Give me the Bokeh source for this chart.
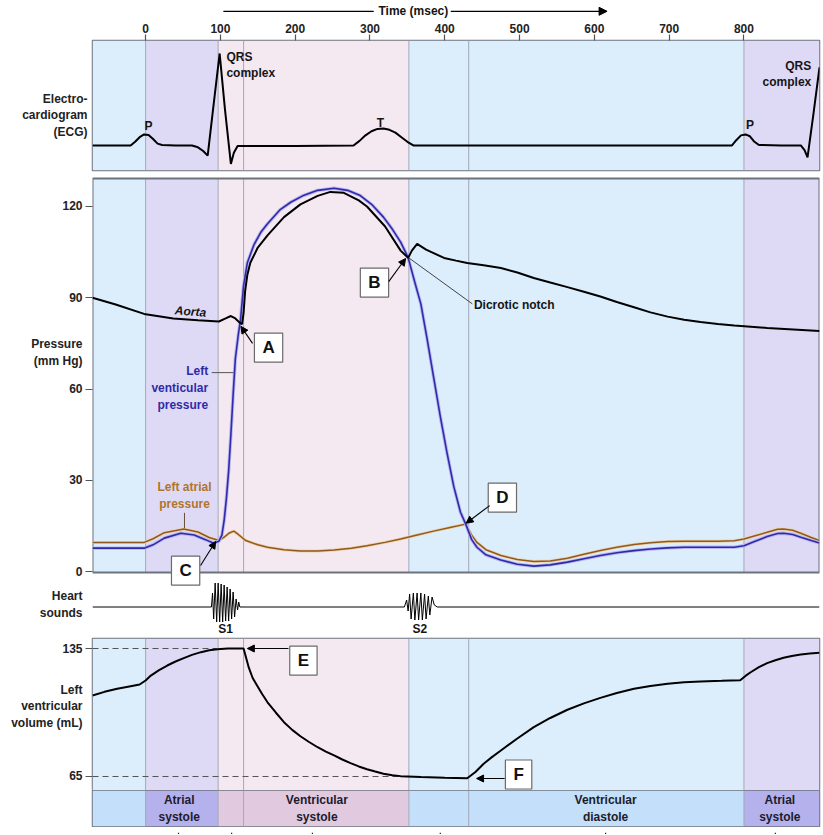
from bokeh.plotting import figure
from bokeh.models import Range1d, Label, Arrow, NormalHead, FixedTicker, LinearAxis
from bokeh.layouts import column
from bokeh.embed import file_html
from bokeh.resources import INLINE

# ---------------------------------------------------------------- data
X_START, X_END = -71, 901
TIME_TICKS = [0, 100, 200, 300, 400, 500, 600, 700, 800]
PRESSURE_TICKS = [0, 30, 60, 90, 120]
VOLUME_TICKS = [65, 135]

PHASE_STARTS = [-71, 0, 97, 352, 800]
PHASE_ENDS = [0, 97, 352, 800, 901]
PHASE_KIND = ["diastole", "atrial", "ventricular", "diastole", "atrial"]
BOUNDARIES = [0, 97, 131, 352, 432, 800]
PHASE_LABELS = ["Atrial\nsystole", "Ventricular\nsystole", "Ventricular\ndiastole", "Atrial\nsystole"]
PHASE_LABEL_X = [45, 229, 615, 848]
LEADER_X = [44, 115, 223, 394, 615, 842]

ecg_t = [-71, -20, -14, -8, -2, 4, 10, 16, 22, 40, 62, 70, 77, 83, 91, 99, 106, 114, 118, 123,
         200, 278, 286, 294, 302, 310, 318, 326, 334, 342, 350, 358, 500, 784, 790, 796, 802, 808,
         814, 820, 850, 876, 881, 885, 893, 901]
ecg_v = [0, 0, 0.04, 0.09, 0.12, 0.115, 0.07, 0.02, 0.005, 0.0, 0.0, -0.02, -0.06, -0.11, 0.45,
         1.0, 0.4, -0.2, -0.08, -0.005, -0.005, 0.0, 0.05, 0.11, 0.155, 0.18, 0.185, 0.17, 0.14,
         0.09, 0.04, 0.0, 0.0, 0.0, 0.06, 0.11, 0.12, 0.1, 0.04, 0.005, 0.0, 0.0, -0.05, -0.13,
         0.35, 0.85]

aorta_t = [-71, -40, -2, 37, 70, 98, 107, 114, 120, 125, 129, 131, 133, 136, 140, 150, 163, 185,
           207, 230, 247, 265, 285, 296, 320, 341, 351, 356, 363, 375, 399, 415, 430, 452, 475,
           497, 519, 541, 564, 586, 608, 630, 653, 675, 698, 720, 742, 765, 787, 831, 901]
aorta_v = [90.0, 87.8, 84.7, 83.2, 82.6, 82.2, 83.2, 84.0, 83.2, 82.0, 81.3, 85.0, 92.0, 97.5,
           101.5, 106.5, 110.5, 116.5, 120.7, 123.5, 124.8, 124.5, 122.0, 120.0, 113.5, 105.5,
           103.1, 105.5, 107.7, 105.8, 103.1, 102.2, 101.4, 100.7, 99.8, 98.3, 96.5, 95.0, 93.5,
           92.0, 90.4, 88.6, 86.9, 85.2, 83.8, 82.8, 82.0, 81.4, 80.9, 80.1, 79.1]

lv_t = [-71, -2, 10, 25, 47, 65, 80, 91, 98, 102, 105, 108, 111, 114, 117, 120, 124, 127, 131,
        136, 145, 154, 163, 180, 194, 210, 230, 252, 270, 287, 303, 318, 330, 341, 351, 360, 368,
        376, 385, 394, 403, 412, 421, 428, 436, 443, 455, 475, 497, 519, 541, 564, 586, 608, 630,
        653, 675, 698, 720, 742, 765, 787, 800, 815, 831, 845, 853, 865, 876, 890, 901]
lv_v = [7.7, 7.7, 8.8, 11.0, 12.6, 12.0, 10.5, 9.3, 10.0, 12.0, 16.8, 24.0, 33.0, 45.0, 58.0,
        70.0, 78.0, 83.0, 94.0, 101.5, 107.5, 111.5, 114.3, 119.0, 121.4, 123.5, 125.3, 126.0,
        125.3, 123.6, 120.5, 116.5, 112.5, 108.3, 103.2, 95.0, 88.0, 77.0, 64.0, 51.0, 39.0,
        28.0, 19.5, 15.6, 10.5, 8.0, 5.5, 3.8, 2.4, 1.8, 2.2, 3.1, 4.2, 5.3, 6.2, 6.9, 7.4, 7.8,
        8.0, 8.0, 8.0, 8.0, 8.5, 10.0, 11.5, 12.5, 12.6, 12.2, 11.3, 10.2, 9.4]

la_t = [-71, -2, 10, 25, 51, 70, 85, 98, 105, 112, 118, 124, 134, 150, 163, 185, 207, 230, 252,
        275, 296, 320, 341, 363, 385, 407, 428, 436, 443, 455, 475, 497, 519, 541, 564, 586, 608,
        630, 653, 675, 698, 720, 742, 765, 787, 800, 815, 831, 845, 853, 865, 876, 890, 901]
la_v = [9.6, 9.6, 10.8, 12.8, 14.0, 13.0, 11.2, 10.2, 11.3, 12.7, 13.3, 12.2, 10.2, 8.8, 8.0,
        7.2, 6.8, 6.8, 7.1, 7.7, 8.5, 9.6, 10.7, 12.0, 13.3, 14.5, 15.6, 12.0, 9.6, 7.2, 5.3,
        4.0, 3.3, 3.5, 4.4, 5.7, 6.9, 8.0, 8.9, 9.5, 9.9, 10.0, 10.0, 10.0, 10.1, 10.7, 11.8,
        12.9, 13.9, 14.0, 13.6, 12.6, 11.2, 10.2]

hs_t = [-71, 88, 89.5, 91, 93, 95, 97, 99, 101, 103, 105, 107, 109, 111, 113, 115, 117, 119,
        121, 123, 124.5, 126, 346, 349, 351, 353, 355, 358, 360, 363, 365, 368, 370, 373, 375,
        378, 380, 383, 386, 390, 901]
hs_v = [0, 0, 14, -12, 24, -15, 24, -15, 23, -15, 22, -14, 20, -14, 18, -12, 15, -10, 8, -3, 5,
        0, 0, 7, -4, 13, -12, 14, -13, 14, -13, 14, -13, 13, -12, 11, -8, 10, 2, 0, 0]

vol_t = [-71, -55, -38, -20, -8, 0, 7, 18, 29, 40, 51, 62, 74, 85, 96, 110, 131, 134, 138, 143,
         149, 156, 163, 174, 185, 196, 207, 218, 230, 241, 252, 263, 274, 285, 296, 307, 318,
         330, 341, 368, 400, 430, 441, 452, 463, 475, 497, 519, 541, 564, 586, 608, 630, 653,
         675, 698, 720, 742, 770, 795, 802, 809, 820, 831, 842, 853, 864, 876, 888, 901]
vol_v = [109.3, 111.3, 113.0, 114.4, 115.3, 117.5, 120.2, 123.2, 125.7, 127.9, 129.7, 131.5,
         133.0, 134.0, 134.6, 135.0, 135.0, 130.5, 124.5, 119.0, 114.8, 110.0, 105.6, 100.0,
         94.7, 90.5, 87.0, 84.0, 81.0, 78.6, 76.5, 74.3, 72.3, 70.5, 69.0, 67.7, 66.5, 65.7,
         65.2, 64.7, 64.3, 64.0, 67.5, 72.0, 75.6, 79.2, 85.8, 92.0, 97.0, 101.5, 105.0, 108.0,
         110.7, 113.0, 114.5, 115.7, 116.5, 117.0, 117.3, 117.6, 120.0, 122.0, 124.8, 127.0,
         128.6, 129.9, 130.9, 131.7, 132.3, 132.7]
DASH_LEVELS = [135, 65]
DASH_ENDS = [95, 341]

# ---------------------------------------------------------------- style
FONT = "Liberation Sans"
OUTLINE = "#6d737d"
VLINE = "#a3a8b8"
BG = {"diastole": "#dcedfb", "atrial": "#dedaf6", "ventricular": "#f4e8f1"}
BAND = {"diastole": "#c3dff9", "atrial": "#b5b1ec", "ventricular": "#e1cae0"}
TXT = "#151515"
LV_COLOR, LV_HALO = "#2f2ba8", "#b9b5f0"
LA_COLOR, LA_LABEL = "#93591c", "#b0742c"

W = 823
BL, BR = 92, 4
xr = Range1d(X_START, X_END)


def base_fig(h, yr, top=0, bottom=0, outline=True):
    f = figure(width=W, height=h, x_range=xr, y_range=yr, output_backend="svg",
               toolbar_location=None, x_axis_location=None, y_axis_location=None,
               min_border_left=BL, min_border_right=BR, min_border_top=top,
               min_border_bottom=bottom)
    f.grid.visible = False
    f.outline_line_color = OUTLINE if outline else None
    f.outline_line_width = 1.5
    f.background_fill_color = "white"
    f.border_fill_color = "white"
    return f


def phase_bg(f, y0, y1, palette, lines=True):
    f.quad(left=PHASE_STARTS, right=PHASE_ENDS, bottom=y0, top=y1,
           fill_color=[palette[k] for k in PHASE_KIND], line_color=None)
    if lines:
        f.segment(x0=BOUNDARIES, x1=BOUNDARIES, y0=y0, y1=y1, line_color=VLINE, line_width=1)


def lab(f, x, y, text, size="12px", align="center", baseline="middle", color=TXT,
        style="bold", angle=0.0, **kw):
    f.add_layout(Label(x=x, y=y, text=text, text_font=FONT, text_font_size=size,
                       text_font_style=style, text_color=color, text_align=align,
                       text_baseline=baseline, angle=angle, **kw))


def box(f, x, y, letter, **kw):
    f.add_layout(Label(x=x, y=y, text=letter, text_font=FONT, text_font_size="17px",
                       text_font_style="bold", text_color="#111111", text_align="center",
                       text_baseline="middle", background_fill_color="white",
                       border_line_color="#6b6b6b", border_line_width=1.2, padding=(8, 5), **kw))


def arrow(f, x0, y0, x1, y1, **kw):
    f.add_layout(Arrow(end=NormalHead(size=7, fill_color="black", line_color="black",
                                      line_width=1),
                       x_start=x0, y_start=y0, x_end=x1, y_end=y1,
                       line_color="black", line_width=1.1, **kw))


def left_axis(f, ticks, titles):
    """Numeric ticks drawn as (minor) tick marks; panel titles as extra labelled ticks."""
    ax = LinearAxis()
    ax.ticker = FixedTicker(ticks=list(ticks) + list(titles.keys()), minor_ticks=list(ticks))
    ax.major_label_overrides = titles
    ax.axis_line_color = None
    ax.major_tick_out = 0
    ax.major_tick_in = 0
    ax.major_tick_line_color = None
    ax.minor_tick_out = 7 if ticks else 0
    ax.minor_tick_in = 0
    ax.minor_tick_line_color = "#555555"
    ax.minor_tick_line_width = 1.2
    ax.major_label_standoff = 3 if ticks else 5
    ax.major_label_text_font = FONT
    ax.major_label_text_font_size = "12px"
    ax.major_label_text_font_style = "bold"
    ax.major_label_text_color = "#222222"
    f.add_layout(ax, "left")
    return ax


# ---------------------------------------------------------------- title strip
tf = base_fig(18, Range1d(0, 1), outline=False)
tf.segment(x0=[104], x1=[305], y0=[0.4], y1=[0.4], line_color="black", line_width=1.2)
tf.add_layout(Arrow(end=NormalHead(size=8, fill_color="black", line_color="black"),
                    x_start=408, y_start=0.4, x_end=617, y_end=0.4, line_color="black",
                    line_width=1.2))
lab(tf, 358, 0.4, "Time (msec)")

# ---------------------------------------------------------------- ECG
E_BOT, E_TOP = -0.272, 1.141
ef = base_fig(156, Range1d(E_BOT, E_TOP), top=22, bottom=4)
phase_bg(ef, E_BOT, E_TOP, BG)
ef.line(ecg_t, ecg_v, line_color="black", line_width=2)
tax = LinearAxis()
tax.ticker = FixedTicker(ticks=TIME_TICKS)
tax.axis_line_color = None
tax.major_tick_out = 6
tax.major_tick_in = 0
tax.minor_tick_line_color = None
tax.major_tick_line_color = "#555555"
tax.major_tick_line_width = 1.2
tax.major_label_standoff = 2
tax.major_label_text_font = FONT
tax.major_label_text_font_size = "12px"
tax.major_label_text_font_style = "bold"
tax.major_label_text_color = "#222222"
ef.add_layout(tax, "above")
left_axis(ef, [], {0.326: "Electro-\ncardiogram\n(ECG)"})
lab(ef, 4, 0.217, "P")
lab(ef, 314, 0.242, "T")
lab(ef, 808, 0.225, "P")
lab(ef, 108, 0.875, "QRS\ncomplex", align="left")
lab(ef, 890, 0.777, "QRS\ncomplex", align="right")

# ---------------------------------------------------------------- pressure + heart sounds
P_FRAME, HS_H, GAP = 394, 65, 4
P_TOP, P_BOT = 129.2, -0.3
p_scale = (P_TOP - P_BOT) / P_FRAME
HS_BOTTOM = -30.5
pf = base_fig(P_FRAME + HS_H + GAP,
              Range1d(P_BOT - HS_H * p_scale, P_TOP + GAP * p_scale), outline=False)
pf.extra_y_ranges = {"hs": Range1d(HS_BOTTOM, HS_BOTTOM + P_FRAME + HS_H + GAP)}
phase_bg(pf, P_BOT, P_TOP, BG)
pf.quad(left=[X_START], right=[X_END], bottom=[P_BOT], top=[P_TOP], fill_color=None,
        line_color=OUTLINE, line_width=2)
hs_title_y = round(P_BOT + (2.5 - HS_BOTTOM - HS_H) * p_scale, 3)
left_axis(pf, PRESSURE_TICKS, {72.0: "Pressure\n(mm Hg)", hs_title_y: "Heart\nsounds"})

pf.line(la_t, la_v, line_color="#ebd3ae", line_width=3.0)
pf.line(la_t, la_v, line_color=LA_COLOR, line_width=1.5)
pf.line(lv_t, lv_v, line_color=LV_HALO, line_width=3.4)
pf.line(lv_t, lv_v, line_color=LV_COLOR, line_width=1.6)
pf.line(aorta_t, aorta_v, line_color="black", line_width=2)
pf.line(hs_t, hs_v, y_range_name="hs", line_color="black", line_width=1.0)

lab(pf, 60, 85.5, "Aorta", angle=-0.08, style="bold italic")
lab(pf, 83.6, 60.4, "Left\nventicular\npressure", align="right", color=LV_COLOR)
pf.segment(x0=[88.5], x1=[117.5], y0=[65.4], y1=[65.4], line_color="#555555", line_width=1)
lab(pf, 52, 25.1, "Left atrial\npressure", color=LA_LABEL)
pf.segment(x0=[52], x1=[52], y0=[19.3], y1=[14.3], line_color="#6b5033", line_width=1)
pf.segment(x0=[352], x1=[436.8], y0=[103.1], y1=[88.0], line_color="#444444", line_width=1)
lab(pf, 439, 87.7, "Dicrotic notch", align="left")

box(pf, 164.4, 73.6, "A")
arrow(pf, 143, 75.0, 127.5, 80.6)
box(pf, 306, 95.0, "B")
arrow(pf, 325, 95.3, 347.6, 102.9)
box(pf, 53.5, 0.3, "C")
arrow(pf, 73.5, 2.0, 93.6, 9.9)
box(pf, 477, 24.3, "D")
arrow(pf, 460, 21.7, 428.5, 15.9)

lab(pf, 107, -21.8, "S1", y_range_name="hs")
lab(pf, 366.8, -21.8, "S2", y_range_name="hs")

# ---------------------------------------------------------------- volume
V_BOT, V_TOP = 57.34, 140.47
vf = base_fig(153, Range1d(V_BOT, V_TOP), top=1)
phase_bg(vf, V_BOT, V_TOP, BG)
vf.segment(x0=[X_START] * len(DASH_LEVELS), x1=DASH_ENDS, y0=DASH_LEVELS, y1=DASH_LEVELS,
           line_color="#555555", line_width=1.2, line_dash="6 4")
vf.line(vol_t, vol_v, line_color="black", line_width=2)
left_axis(vf, VOLUME_TICKS, {103.3: "Left\nventricular\nvolume (mL)"})
box(vf, 211, 128.4, "E")
arrow(vf, 191, 135.0, 136, 135.0)
box(vf, 498.7, 66.1, "F")
arrow(vf, 480, 63.9, 442.5, 63.9)

# ---------------------------------------------------------------- phase band
bf = base_fig(37, Range1d(0, 1), bottom=1)
phase_bg(bf, 0, 1, BAND)
for x, t in zip(PHASE_LABEL_X, PHASE_LABELS):
    lab(bf, x, 0.5, t, color="#1c1c2c")

# ---------------------------------------------------------------- leader stubs below band
lf = base_fig(7, Range1d(0, 1), outline=False)
lf.segment(x0=LEADER_X, x1=LEADER_X, y0=[0] * len(LEADER_X), y1=[1] * len(LEADER_X),
           line_color="#222222", line_width=1.2)

layout = column(tf, ef, pf, vf, bf, lf)
open("out.html", "w").write(file_html(layout, INLINE))
